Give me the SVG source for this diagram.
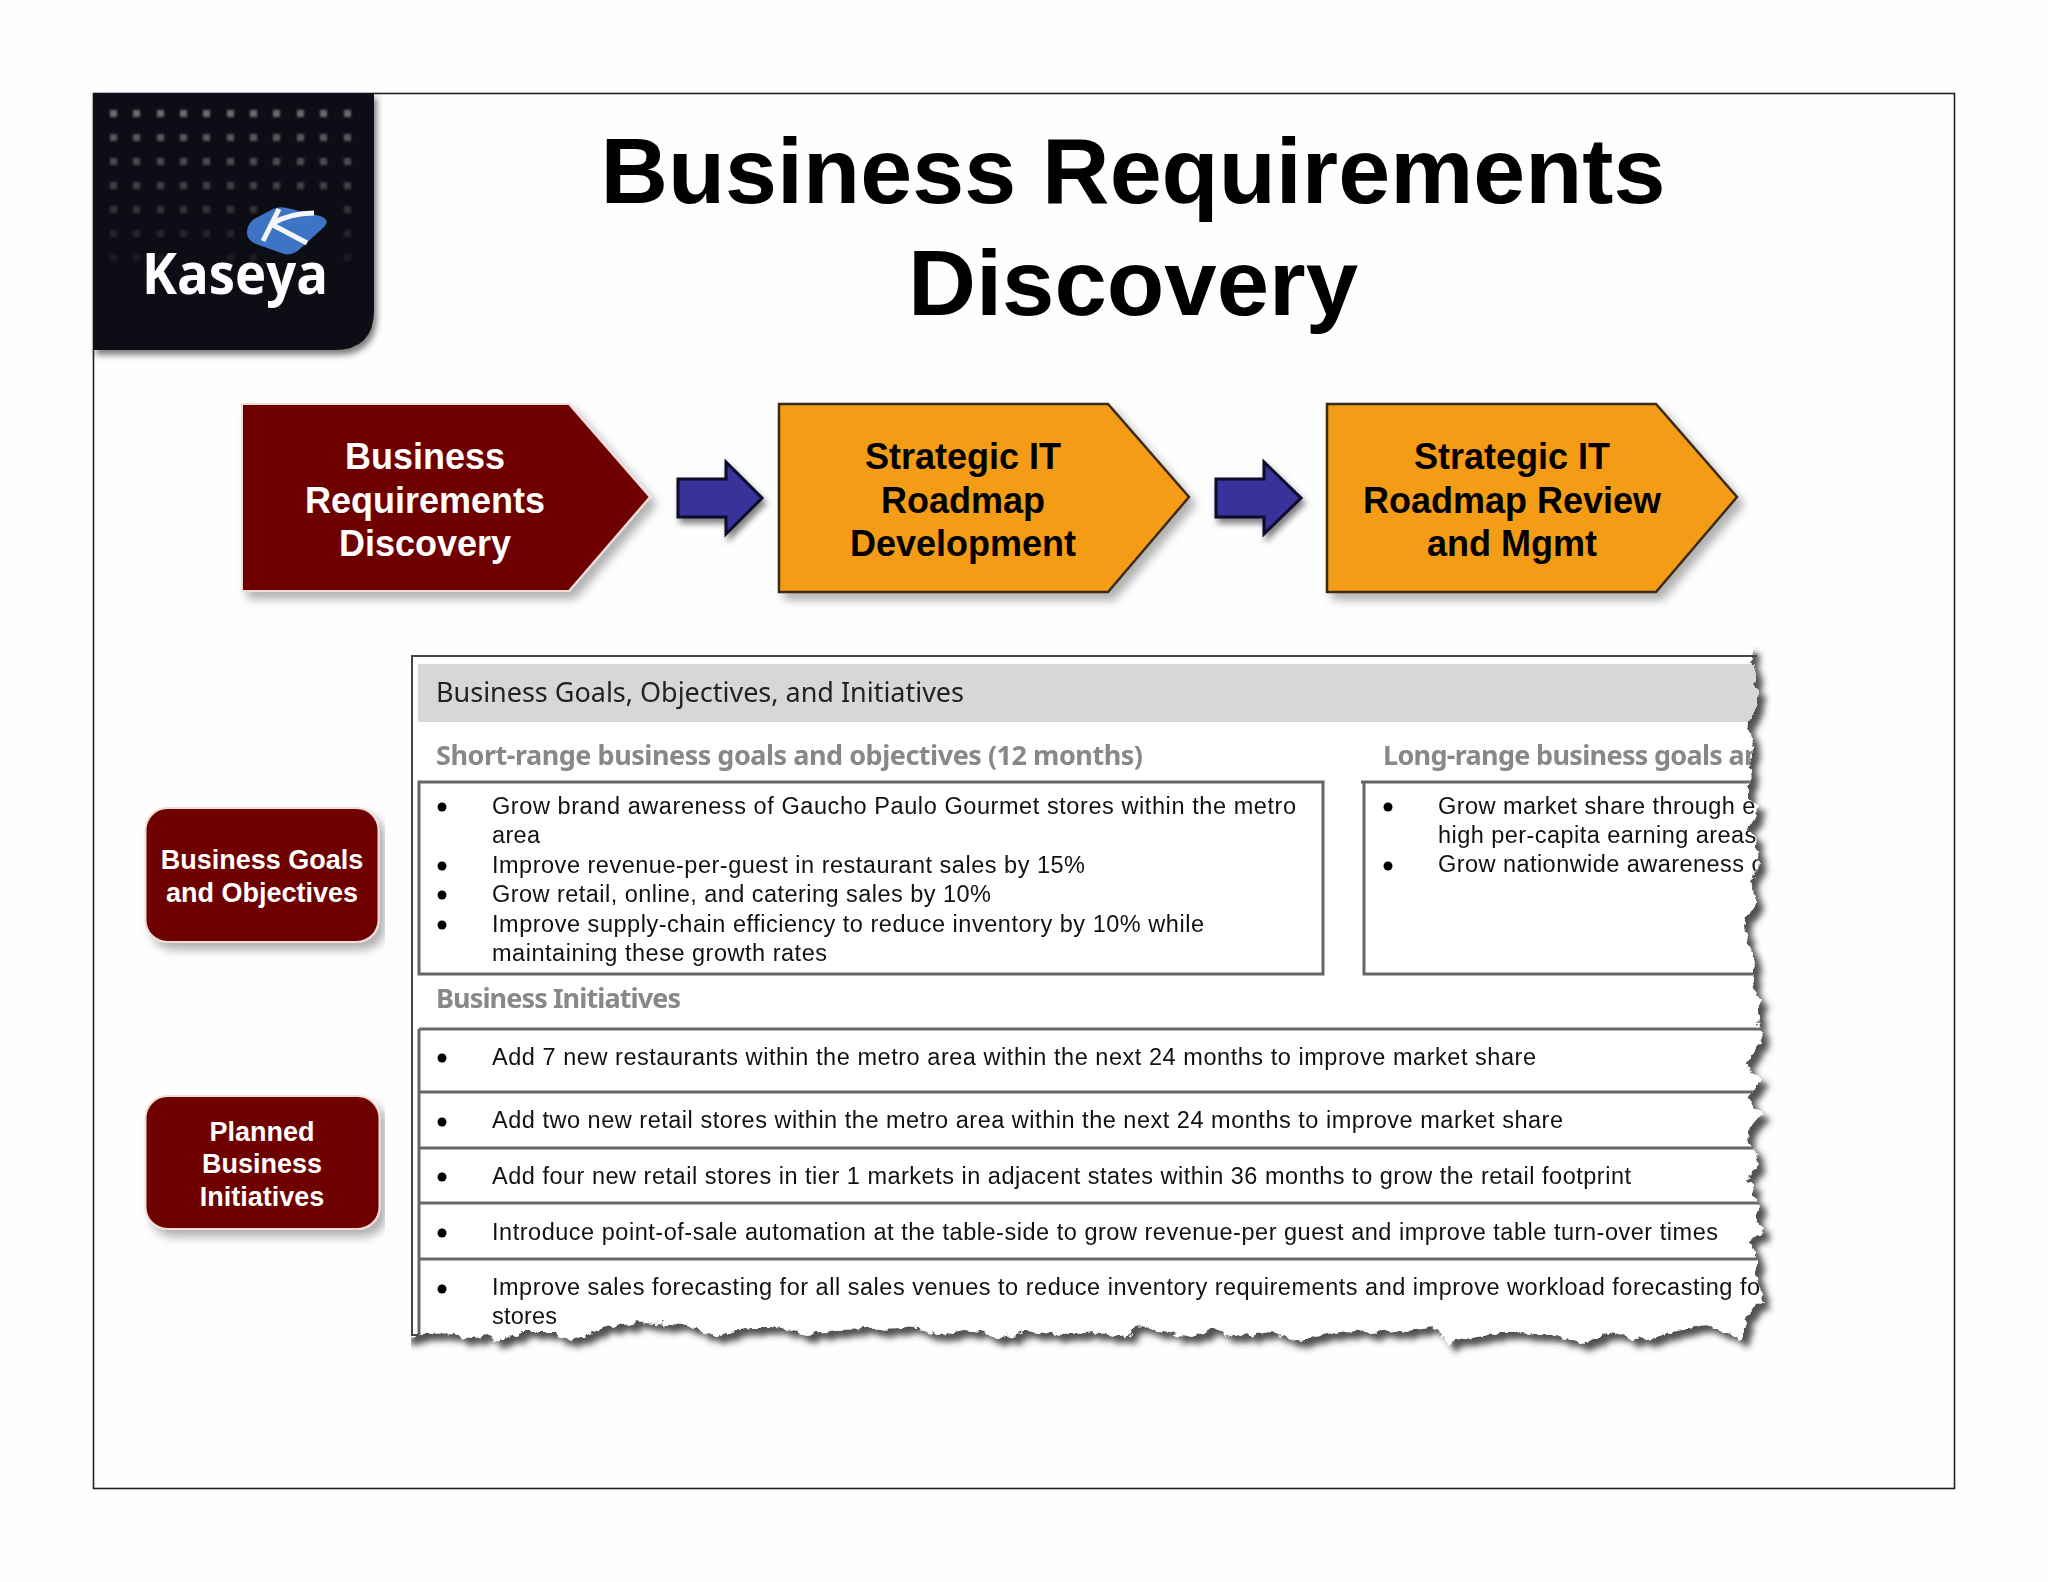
<svg xmlns="http://www.w3.org/2000/svg" width="2048" height="1582" viewBox="0 0 2048 1582">
<style>
text{font-family:"Liberation Sans",Arial,sans-serif}
.title{font-size:92px;font-weight:700;fill:#000;text-anchor:middle}
.chev{font-size:36px;font-weight:700;text-anchor:middle}
.lab{font-size:27px;font-weight:700;fill:#fff;text-anchor:middle}
.t{font-size:23.5px;fill:#111}
.w{letter-spacing:.45px}
.h{font-family:"Noto Sans","Open Sans",sans-serif;font-size:27px;fill:#222}
.s{font-family:"Noto Sans","Open Sans",sans-serif;font-size:27px;font-weight:700;fill:#88888a}
.rule{stroke:#666;stroke-width:3;fill:none}
.red{fill:#6e0202;stroke:#f0dcd8;stroke-width:2}
.org{fill:#f59c14;stroke:#3b2a12;stroke-width:2.5}
.blu{fill:#39329a;stroke:#0b0b2a;stroke-width:3}
.dot{fill:#8a8c90}
</style>
<defs>
<filter id="sh" x="-10%" y="-10%" width="125%" height="125%"><feDropShadow dx="6" dy="7" stdDeviation="5" flood-color="#000" flood-opacity=".3"/></filter>
<filter id="sm" x="-20%" y="-20%" width="140%" height="140%"><feDropShadow dx="3" dy="5" stdDeviation="3" flood-color="#000" flood-opacity=".5"/></filter>
<filter id="blr" x="-100%" y="-100%" width="300%" height="300%"><feGaussianBlur stdDeviation="1.1"/></filter>
<filter id="jag" x="-2%" y="-5%" width="104%" height="110%"><feTurbulence type="fractalNoise" baseFrequency=".09" numOctaves="3" seed="4" result="n"/><feDisplacementMap in="SourceGraphic" in2="n" scale="11" xChannelSelector="R" yChannelSelector="G"/></filter>
<filter id="torn" x="-2%" y="-5%" width="104%" height="110%"><feTurbulence type="fractalNoise" baseFrequency=".09" numOctaves="3" seed="4" result="n"/><feDisplacementMap in="SourceGraphic" in2="n" scale="11" xChannelSelector="R" yChannelSelector="G" result="d"/><feDropShadow in="d" dx="7" dy="7" stdDeviation="3" flood-color="#333" flood-opacity=".85"/></filter>
<path id="edge" d="M404 646H1748L1757 673L1755 683L1758 703L1748 720L1747 728L1755 747L1748 765L1750 783L1750 800L1758 813L1748 830L1760 850L1752 887L1757 900L1747 912L1745 927L1748 943L1755 960L1752 987L1760 1000L1757 1023L1763 1040L1745 1063L1762 1080L1747 1098L1762 1113L1750 1127L1747 1143L1762 1163L1747 1178L1758 1200L1757 1220L1765 1228L1748 1243L1758 1260L1757 1280L1763 1300L1750 1313L1740 1340L1727 1333L1703 1325L1677 1330L1643 1340L1607 1332L1587 1342L1517 1332L1500 1332L1450 1343L1430 1327L1403 1330L1373 1333L1350 1330L1300 1340L1270 1332L1240 1336L1215 1329L1190 1337L1165 1331L1139 1326L1125 1338L1095 1332L1060 1335L1030 1331L1000 1337L965 1330L940 1335L921 1329L900 1328L833 1330L810 1335L770 1328L750 1328L717 1337L700 1328L683 1325L647 1322L607 1327L570 1340L557 1332L523 1332L493 1342L487 1334L463 1338L453 1333L423 1334L404 1340Z"/>
<mask id="paper" maskUnits="userSpaceOnUse" x="380" y="620" width="1420" height="760"><use href="#edge" fill="#fff" filter="url(#jag)"/></mask>
</defs>
<rect width="2048" height="1582" fill="#fefefe"/>
<rect id="frame" x="93.5" y="93.5" width="1861" height="1395" fill="none" stroke="#222" stroke-width="1.6"/>
<g id="logo">
<path d="M93 93H374V310Q374 350 334 350H93Z" fill="#0c0d12" filter="url(#sm)"/>
<g class="dot" filter="url(#blr)">
<g opacity=".75"><rect x="110" y="110" width="7" height="7"/><rect x="133" y="110" width="7" height="7"/><rect x="157" y="110" width="7" height="7"/><rect x="180" y="110" width="7" height="7"/><rect x="203" y="110" width="7" height="7"/><rect x="227" y="110" width="7" height="7"/><rect x="250" y="110" width="7" height="7"/><rect x="273" y="110" width="7" height="7"/><rect x="297" y="110" width="7" height="7"/><rect x="320" y="110" width="7" height="7"/><rect x="344" y="110" width="7" height="7"/></g>
<g opacity=".6"><rect x="110" y="134" width="7" height="7"/><rect x="133" y="134" width="7" height="7"/><rect x="157" y="134" width="7" height="7"/><rect x="180" y="134" width="7" height="7"/><rect x="203" y="134" width="7" height="7"/><rect x="227" y="134" width="7" height="7"/><rect x="250" y="134" width="7" height="7"/><rect x="273" y="134" width="7" height="7"/><rect x="297" y="134" width="7" height="7"/><rect x="320" y="134" width="7" height="7"/><rect x="344" y="134" width="7" height="7"/></g>
<g opacity=".5"><rect x="110" y="158" width="7" height="7"/><rect x="133" y="158" width="7" height="7"/><rect x="157" y="158" width="7" height="7"/><rect x="180" y="158" width="7" height="7"/><rect x="203" y="158" width="7" height="7"/><rect x="227" y="158" width="7" height="7"/><rect x="250" y="158" width="7" height="7"/><rect x="273" y="158" width="7" height="7"/><rect x="297" y="158" width="7" height="7"/><rect x="320" y="158" width="7" height="7"/><rect x="344" y="158" width="7" height="7"/></g>
<g opacity=".4"><rect x="110" y="182" width="7" height="7"/><rect x="133" y="182" width="7" height="7"/><rect x="157" y="182" width="7" height="7"/><rect x="180" y="182" width="7" height="7"/><rect x="203" y="182" width="7" height="7"/><rect x="227" y="182" width="7" height="7"/><rect x="250" y="182" width="7" height="7"/><rect x="273" y="182" width="7" height="7"/><rect x="297" y="182" width="7" height="7"/><rect x="320" y="182" width="7" height="7"/><rect x="344" y="182" width="7" height="7"/></g>
<g opacity=".3"><rect x="110" y="206" width="7" height="7"/><rect x="133" y="206" width="7" height="7"/><rect x="157" y="206" width="7" height="7"/><rect x="180" y="206" width="7" height="7"/><rect x="203" y="206" width="7" height="7"/><rect x="227" y="206" width="7" height="7"/><rect x="250" y="206" width="7" height="7"/><rect x="344" y="206" width="7" height="7"/></g>
<g opacity=".2"><rect x="110" y="230" width="7" height="7"/><rect x="133" y="230" width="7" height="7"/><rect x="157" y="230" width="7" height="7"/><rect x="180" y="230" width="7" height="7"/><rect x="203" y="230" width="7" height="7"/><rect x="227" y="230" width="7" height="7"/><rect x="344" y="230" width="7" height="7"/></g>
<g opacity=".12"><rect x="110" y="254" width="7" height="7"/><rect x="133" y="254" width="7" height="7"/><rect x="157" y="254" width="7" height="7"/><rect x="227" y="254" width="7" height="7"/><rect x="250" y="254" width="7" height="7"/><rect x="344" y="254" width="7" height="7"/></g>
</g>
<path d="M247 231Q248 222 256 218L273 209Q279 206 287 208L320 216Q331 220 324 227L301 248Q293 256 284 254L256 244Q246 240 247 231Z" fill="#3e74c4"/>
<path d="M279 209L263 241M271 224Q290 213 314 213M271 224L307 243" fill="none" stroke="#f4f6fa" stroke-width="5"/>
<text x="235" y="294" text-anchor="middle" style="font-family:'Open Sans','Noto Sans',sans-serif;font-size:58px;font-weight:700;fill:#fff" textLength="186" lengthAdjust="spacingAndGlyphs">Kaseya</text>
</g>
<g id="title">
<text class="title" x="1133" y="203" textLength="1065" lengthAdjust="spacingAndGlyphs">Business Requirements</text>
<text class="title" x="1133" y="315" textLength="450" lengthAdjust="spacingAndGlyphs">Discovery</text>
</g>
<g id="node-discovery">
<path class="red" filter="url(#sh)" d="M242 404H569L650 497L569 591H242Z"/>
<text class="chev" fill="#fff" x="425" y="469">Business</text>
<text class="chev" fill="#fff" x="425" y="513">Requirements</text>
<text class="chev" fill="#fff" x="425" y="556">Discovery</text>
</g>
<g id="node-roadmap-dev">
<path class="org" filter="url(#sh)" d="M779 404H1108L1189 497L1108 592H779Z"/>
<text class="chev" fill="#000" x="963" y="469">Strategic IT</text>
<text class="chev" fill="#000" x="963" y="513">Roadmap</text>
<text class="chev" fill="#000" x="963" y="556">Development</text>
</g>
<g id="node-roadmap-review">
<path class="org" filter="url(#sh)" d="M1327 404H1656L1737 497L1656 592H1327Z"/>
<text class="chev" fill="#000" x="1512" y="469">Strategic IT</text>
<text class="chev" fill="#000" x="1512" y="513">Roadmap Review</text>
<text class="chev" fill="#000" x="1512" y="556">and Mgmt</text>
</g>
<g id="connectors">
<path class="blu" filter="url(#sm)" d="M678 479H726V462L762 498L726 534V517H678Z"/>
<path class="blu" filter="url(#sm)" d="M1216 479H1264V462L1301 498L1264 534V517H1216Z"/>
</g>
<g id="node-goals">
<rect class="red" filter="url(#sh)" x="145.5" y="808" width="233" height="134" rx="22"/>
<text class="lab" x="262" y="869">Business Goals</text>
<text class="lab" x="262" y="902">and Objectives</text>
</g>
<g id="node-initiatives">
<rect class="red" filter="url(#sh)" x="145.5" y="1096" width="234" height="133" rx="22"/>
<text class="lab" x="262" y="1141">Planned</text>
<text class="lab" x="262" y="1173">Business</text>
<text class="lab" x="262" y="1206">Initiatives</text>
</g>
<g id="table">
<use href="#edge" fill="#fff" filter="url(#torn)"/>
<path d="M385 625H1745V654H411V1365H385Z" fill="#fefefe"/>
<g mask="url(#paper)">
<rect x="418" y="664" width="1360" height="58" fill="#d7d6d9"/>
<path class="rule" d="M419 782H1323V974H419ZM1361 782H1775M1364 782V974H1775M419 1029H1775M419 1092H1775M419 1148H1775M419 1203H1775M419 1259H1775M419 1029V1340"/>
<text class="h" x="436" y="702" textLength="528">Business Goals, Objectives, and Initiatives</text>
<text class="s" x="436" y="765" textLength="707">Short-range business goals and objectives (12 months)</text>
<text class="s" x="1383" y="765" textLength="395">Long-range business goals and</text>
<text class="s" x="436" y="1008" textLength="245">Business Initiatives</text>
<g fill="#000">
<circle cx="442" cy="807" r="4.5"/><circle cx="442" cy="866" r="4.5"/><circle cx="442" cy="895" r="4.5"/><circle cx="442" cy="925" r="4.5"/>
<circle cx="1388" cy="807" r="4.5"/><circle cx="1388" cy="866" r="4.5"/>
<circle cx="442" cy="1058" r="4.5"/><circle cx="442" cy="1122" r="4.5"/><circle cx="442" cy="1177" r="4.5"/><circle cx="442" cy="1233" r="4.5"/><circle cx="442" cy="1289" r="4.5"/>
</g>
<text class="t" x="492" y="814" textLength="804">Grow brand awareness of Gaucho Paulo Gourmet stores within the metro</text>
<text class="t" x="492" y="843" textLength="48">area</text>
<text class="t" x="492" y="873" textLength="593">Improve revenue-per-guest in restaurant sales by 15%</text>
<text class="t" x="492" y="902" textLength="499">Grow retail, online, and catering sales by 10%</text>
<text class="t" x="492" y="932" textLength="712">Improve supply-chain efficiency to reduce inventory by 10% while</text>
<text class="t" x="492" y="961" textLength="335">maintaining these growth rates</text>
<text class="t w" x="1438" y="814">Grow market share through ex</text>
<text class="t w" x="1438" y="843">high per-capita earning areas</text>
<text class="t w" x="1438" y="872">Grow nationwide awareness o</text>
<text class="t" x="492" y="1065" textLength="1044">Add 7 new restaurants within the metro area within the next 24 months to improve market share</text>
<text class="t" x="492" y="1128" textLength="1071">Add two new retail stores within the metro area within the next 24 months to improve market share</text>
<text class="t" x="492" y="1184" textLength="1139">Add four new retail stores in tier 1 markets in adjacent states within 36 months to grow the retail footprint</text>
<text class="t" x="492" y="1240" textLength="1226">Introduce point-of-sale automation at the table-side to grow revenue-per guest and improve table turn-over times</text>
<text class="t" x="492" y="1295" textLength="1268">Improve sales forecasting for all sales venues to reduce inventory requirements and improve workload forecasting fo</text>
<text class="t" x="492" y="1324" textLength="65">stores</text>
</g>
<path d="M1757 656H412V1335H419" fill="none" stroke="#444" stroke-width="2"/>
</g>
</svg>
